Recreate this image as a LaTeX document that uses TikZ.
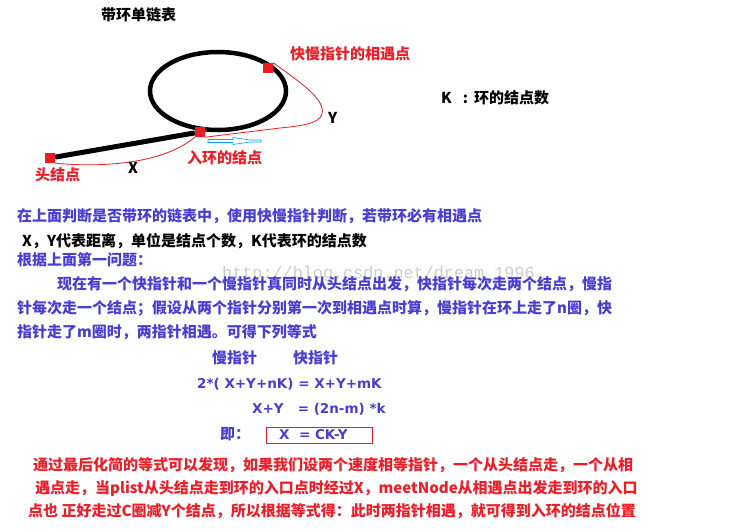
\documentclass[tikz,border=0pt]{standalone}
\usepackage{fontspec}
\setmainfont{Noto Sans CJK SC}
\newfontfamily\wmfont{Liberation Mono}
\newfontfamily\eqfont{DejaVu Sans}
\usetikzlibrary{backgrounds}
\definecolor{pRed}{RGB}{237,28,36}
\definecolor{tRed}{RGB}{236,30,40}
\definecolor{tBlue}{RGB}{72,62,212}
\definecolor{pCyan}{RGB}{0,162,232}
\definecolor{wmGray}{RGB}{205,205,205}
\tikzset{
  sq/.style={fill=pRed, minimum size=10pt, inner sep=0pt},
  lab/.style={font=\fontsize{15}{15}\selectfont\bfseries, anchor=west, inner sep=0pt, text height=0.8em, text depth=0.2em},
  bluelab/.style={lab, text=tBlue},
  redlab/.style={lab, text=tRed},
  blacklab/.style={lab, text=black},
  eqlab/.style={bluelab, font=\eqfont\fontsize{13.5}{13.5}\selectfont\bfseries},
  redline/.style={draw=pRed, line width=0.8pt},
}
\begin{document}
\begin{tikzpicture}[x=1pt,y=-1pt]
\useasboundingbox (0,0) rectangle (738,532);
% diagram
\draw[line width=4.5pt] (218,91) ellipse [x radius=68pt, y radius=39pt];
\node[sq] (meet) at (268,68) {};
\node[sq] (entry) at (200,132) {};
\node[sq] (head) at (50,158) {};
\begin{pgfonlayer}{background}
  \fill[white] (0,0) rectangle (738,532);
  \draw[line width=5pt] (head) -- (entry);
\end{pgfonlayer}
\draw[redline] (head.south east) .. controls (95,167) and (160,166) .. (entry.south west);
\draw[redline] (meet.north east) .. controls (300,82) and (326,100) .. (322,114)
   .. controls (319,124) and (300,126) .. (280,128) -- (entry.south east);
\draw[pCyan, line width=0.6pt] (208,139.5) -- (233,139.5) -- (233,137.5) -- (250,140) -- (261,140)
   -- (261,142) -- (250,142) -- (233,144.5) -- (233,142.5) -- (208,142.5) -- cycle;
\node[blacklab] (title) at (101,18) {带环单链表};
\node[redlab] (meetlab) at (290,57) {快慢指针的相遇点};
\node[blacklab] (ylab) at (328,121) {Y};
\node[blacklab] (klab) at (441,100) {K\hspace{11pt}:\hspace{6pt}环的结点数};
\node[redlab] (entrylab) at (187,160) {入环的结点};
\node[redlab] (headlab) at (35,177) {头结点};
\node[blacklab] (xlab) at (128,170) {X};
% text block
\node[anchor=west, inner sep=0pt, text=wmGray, font=\wmfont\fontsize{16.8}{16.8}\selectfont] (wm) at (222,274) {http://blog.csdn.net/dream\_1996};
\node[bluelab] (t1) at (17,218) {在上面判断是否带环的链表中，使用快慢指针判断，若带环必有相遇点};
\node[blacklab] (t2) at (22,243) {X，Y代表距离，单位是结点个数，K代表环的结点数};
\node[bluelab] (t3) at (17,262) {根据上面第一问题：};
\node[bluelab] (t4) at (57,286) {现在有一个快指针和一个慢指针真同时从头结点出发，快指针每次走两个结点，慢指};
\node[bluelab] (t5) at (17,310) {针每次走一个结点；假设从两个指针分别第一次到相遇点时算，慢指针在环上走了n圈，快};
\node[bluelab] (t6) at (17,334) {指针走了m圈时，两指针相遇。可得下列等式};
\node[bluelab] (slow) at (212,360) {慢指针};
\node[bluelab] (fast) at (293,360) {快指针};
\node[eqlab] (eq1) at (197,385) {2*( X+Y+nK) = X+Y+mK};
\node[eqlab] (eq2) at (252,410) {X+Y\ \ \ = (2n-m) *k};
\node[bluelab] (ji) at (220,436) {即：};
\node[draw=pRed, line width=0.8pt, minimum width=106pt, minimum height=16pt, inner sep=0pt] (box) at (319,435.5) {};
\node[eqlab] (eq3) at (279,436) {X\ \ = CK-Y};
\node[redlab] (r1) at (33,467) {通过最后化简的等式可以发现，如果我们设两个速度相等指针，一个从头结点走，一个从相};
\node[redlab] (r2) at (35,490) {遇点走，当plist从头结点走到环的入口点时经过X，meetNode从相遇点出发走到环的入口};
\node[redlab] (r3) at (28,513) {点也 正好走过C圈减Y个结点，所以根据等式得：此时两指针相遇，就可得到入环的结点位置};
\end{tikzpicture}
\end{document}
